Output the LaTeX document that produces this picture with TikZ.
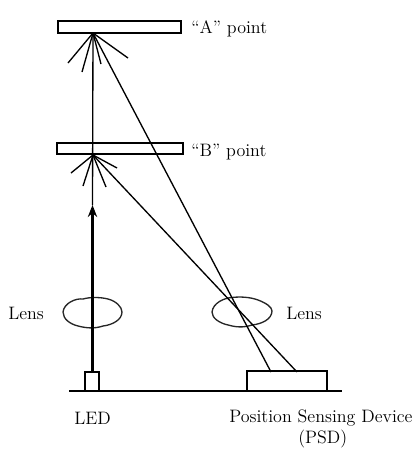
\documentclass[tikz,border=0pt]{standalone}
\usepackage{fontspec}
\usetikzlibrary{arrows.meta}
\begin{document}
\begin{tikzpicture}[x=0.75pt,y=-0.75pt,
  line/.style={draw=black,line width=1pt},
  bar/.style={draw=black,line width=1.4pt,fill=white},
  lensshape/.style={draw=black!85,line width=1pt},
  lbl/.style={font=\fontsize{13.5pt}{15pt}\selectfont,text=black,inner sep=0pt,anchor=west}]
\useasboundingbox (0,0) rectangle (420,454);
% reflecting bars
\draw[bar] (58,21) rectangle (181,33);
\draw[bar] (57,143) rectangle (183,154);
\coordinate (apexA) at (93,33);
\coordinate (apexB) at (93,155);
\coordinate (arrowTip) at (92.5,205);
\coordinate (ledTop) at (92.5,373);
\coordinate (psdA) at (271,372);
\coordinate (psdB) at (297,372);
% rays at A
\foreach \p in {(68,63),(82,72),(101,64),(128,58)} \draw[line] (apexA) -- \p;
% rays at B
\foreach \p in {(71,173),(83,186),(106,187),(117,168)} \draw[line] (apexB) -- \p;
% lenses
\draw[lensshape] (63,312) .. controls (64,303) and (76,298) .. (83,299)
  .. controls (90,297) and (100,297) .. (108,299)
  .. controls (116,301) and (122,307) .. (122,312)
  .. controls (122,320) and (112,325) .. (103,326)
  .. controls (94,329) and (86,328) .. (78,326)
  .. controls (70,324) and (63,319) .. (63,312) -- cycle;
\draw[lensshape] (212,312) .. controls (213,303) and (224,298) .. (232,297.5)
  .. controls (240,296.5) and (250,297) .. (258,300)
  .. controls (266,303) and (272,307) .. (272,311)
  .. controls (272,319) and (262,324) .. (252,325)
  .. controls (243,328) and (235,327) .. (228,325)
  .. controls (219,323) and (212,318) .. (212,312) -- cycle;
% beams
\draw[line] (apexA) -- (arrowTip);
\draw[line] (apexA) -- (psdA);
\draw[line] (apexB) -- (psdB);
\draw[line width=2.4pt,draw=black,-{Stealth[length=9pt,width=7pt]}] (ledTop) -- (arrowTip);
% base
\draw[line] (85,391) |- (99,372) -- (99,391);
\draw[line,line width=1.3pt] (247,391) |- (327,371) -- (327,391);
\draw[line,line width=1.4pt] (69,391) -- (342,391);
% labels
\node[lbl] (a) at (191,29) {“A” point};
\node[lbl] (b) at (191,152) {“B” point};
\node[lbl] (l1) at (8,313) {Lens};
\node[lbl] (l2) at (286,313) {Lens};
\node[lbl] (led) at (74,418) {LED};
\node[lbl] (psd) at (229,418) {Position Sensing Device};
\node[lbl] (psd2) at (298,439) {(PSD)};
\end{tikzpicture}
\end{document}
